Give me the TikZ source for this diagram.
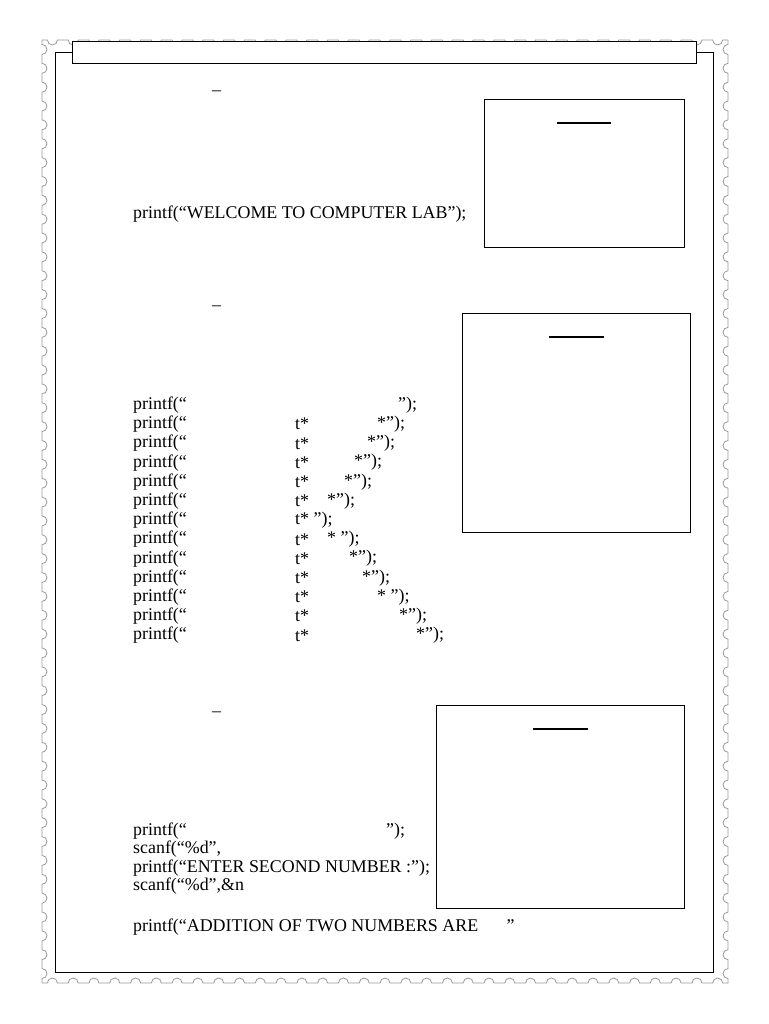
\documentclass[tikz,border=0pt]{standalone}
\usepackage{fontspec}
\setmainfont{Liberation Serif}
\begin{document}
\begin{tikzpicture}[x=1pt,y=-1pt,
  code/.style={anchor=west,inner sep=0pt,font=\fontsize{17.9}{19}\selectfont},
  outbox/.style={draw,line width=0.9pt},
  scal/.style={draw=gray!80,line width=0.8pt}]
\useasboundingbox (0,0) rectangle (768,1024);
% stamp border
\foreach \i in {0,...,32}{\draw[scal] (42+\i*20.79,40) -- ++(5.4,0) arc[start angle=180,end angle=0,radius=5] -- ++(5.4,0);}
\foreach \i in {0,...,32}{\draw[scal] (42+\i*20.79,983) -- ++(5.4,0) arc[start angle=180,end angle=360,radius=5] -- ++(5.4,0);}
\foreach \i in {0,...,49}{\draw[scal] (42,40+\i*18.86) -- ++(0,4.43) arc[start angle=-90,end angle=90,radius=5] -- ++(0,4.43);}
\foreach \i in {0,...,49}{\draw[scal] (728,40+\i*18.86) -- ++(0,4.43) arc[start angle=270,end angle=90,radius=5] -- ++(0,4.43);}
% frames
\node[outbox,minimum width=658,minimum height=920,anchor=north west,inner sep=0] (frame) at (55,52) {};
\node[outbox,fill=white,minimum width=624,minimum height=22,anchor=north west,inner sep=0] (bar) at (72,41) {};
\node[outbox,minimum width=200,minimum height=148,anchor=north west,inner sep=0] (b1) at (484,99) {};
\node[outbox,minimum width=228,minimum height=219,anchor=north west,inner sep=0] (b2) at (462,313) {};
\node[outbox,minimum width=248,minimum height=203,anchor=north west,inner sep=0] (b3) at (436,705) {};
\coordinate (u1a) at (557,123); \coordinate (u1b) at (611,123);
\coordinate (u2a) at (549,337); \coordinate (u2b) at (604,337);
\coordinate (u3a) at (533,729); \coordinate (u3b) at (588,729);
\draw[line width=1.3pt] (u1a) -- (u1b);
\draw[line width=1.3pt] (u2a) -- (u2b);
\draw[line width=1.3pt] (u3a) -- (u3b);
% dashes
\node[code] (d1) at (212,93) {–};
\node[code] (d2) at (212,308) {–};
\node[code] (d3) at (212,714) {–};
% section 1
\node[code] (p1) at (133,214) {printf(“WELCOME TO COMPUTER LAB”);};
% section 2: K
\foreach \i/\t in {1/, 2/t*, 3/t*, 4/t*, 5/t*, 6/t*, 7/t* ”);, 8/t*, 9/t*, 10/t*, 11/t*, 12/t*, 13/t*}{
  \node[code] (k\i) at (133,{405+(\i-1)*19.2}) {printf(“};
  \node[code] (kt\i) at (295,{405+(\i-1)*19.2}) {\t};
}
\foreach \i/\x/\s in {1/398/”);, 2/377/*”);, 3/367/*”);, 4/354/*”);, 5/344/*”);, 6/327/*”);, 8/327/* ”);, 9/349/*”);, 10/362/*”);, 11/377/* ”);, 12/399/*”);, 13/416/*”);}{
  \node[code] (ks\i) at (\x,{405+(\i-1)*19.2}) {\s};
}
% section 3
\node[code] (q1) at (133,831) {printf(“};
\node[code] (q1e) at (386,831) {”);};
\node[code] (q2) at (133,849) {scanf(“\%d”,};
\node[code] (q3) at (133,868) {printf(“ENTER SECOND NUMBER :”);};
\node[code] (q4) at (133,886) {scanf(“\%d”,\&n};
\node[code] (q5) at (133,927) {printf(“ADDITION OF TWO NUMBERS ARE \hspace{24pt}”};
\end{tikzpicture}
\end{document}
